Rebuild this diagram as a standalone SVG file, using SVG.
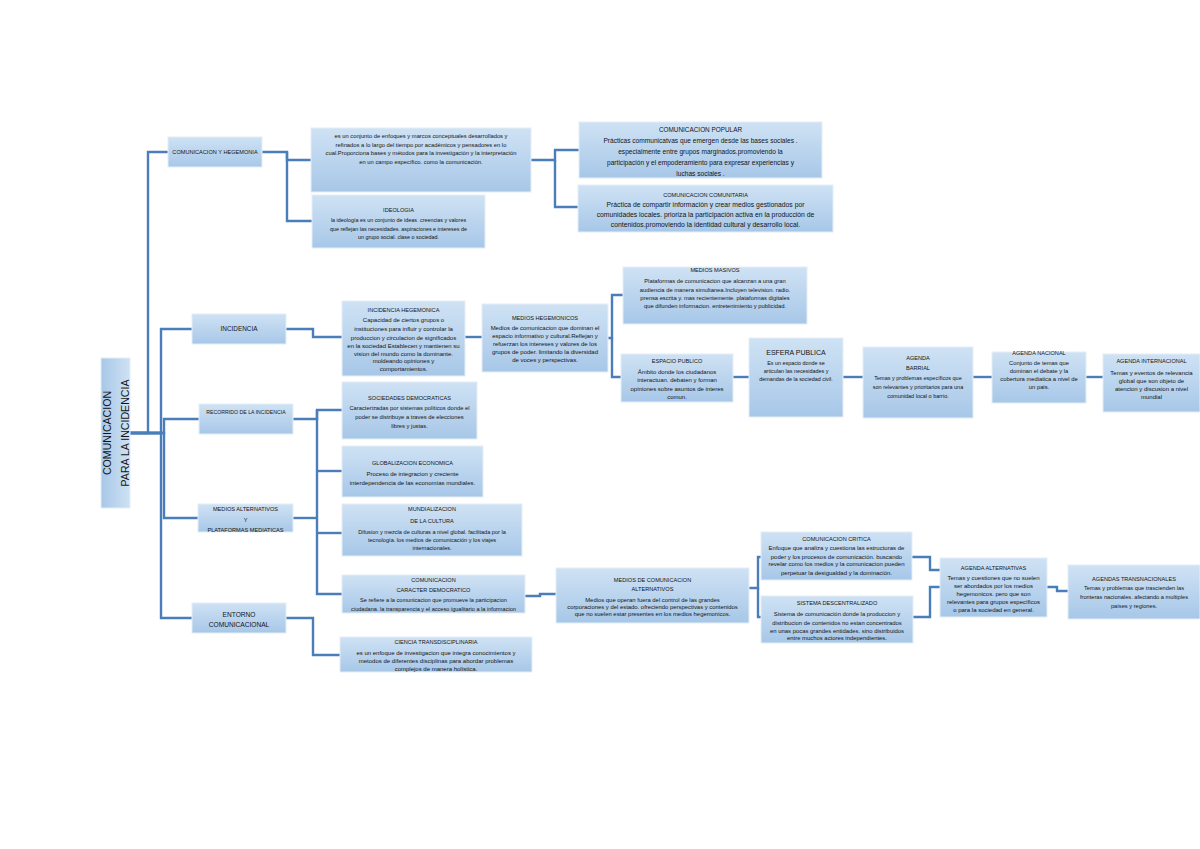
<svg xmlns="http://www.w3.org/2000/svg" width="1200" height="849" viewBox="0 0 1200 849">
<defs>
<linearGradient id="bg" x1="0" y1="0" x2="0" y2="1">
<stop offset="0" stop-color="#cfe2f4"/>
<stop offset="1" stop-color="#a7c7e8"/>
</linearGradient>
<linearGradient id="bgh" x1="0" y1="0" x2="1" y2="0">
<stop offset="0" stop-color="#a7c7e8"/>
<stop offset="1" stop-color="#cfe2f4"/>
</linearGradient>
</defs>
<style>
rect.n{fill:url(#bg);stroke:#e4eef8;stroke-width:1}
text{font-family:"Liberation Sans",Arial,sans-serif;fill:#141414;text-anchor:middle}
.t{font-size:5.6px}
.s{font-size:6px}
.c path{fill:none;stroke:#4a7ebb;stroke-width:2.4}
</style>
<rect width="1200" height="849" fill="#ffffff"/>
<g class="c" id="connectors">
<path d="M130,433 H148 V152 H168"/>
<path d="M130,433 H161 V329 H192"/>
<path d="M130,433 H164 V419 H199"/>
<path d="M130,433 H164 V518 H198"/>
<path d="M130,433 H161 V618 H192"/>
<path d="M262,152 H287 V160 H311"/>
<path d="M287,152 V221 H312"/>
<path d="M531,160 H555 V150 H579"/>
<path d="M555,160 V207 H578"/>
<path d="M286,329 H313 V337 H342"/>
<path d="M465,337 H482"/>
<path d="M608,338 H612 V295 H623"/>
<path d="M612,338 V377 H621"/>
<path d="M733,377 H749"/>
<path d="M843,377 H863"/>
<path d="M973,377 H992"/>
<path d="M1086,377 H1103"/>
<path d="M293,419 H317 V410 H342"/>
<path d="M317,410 V594 H342"/>
<path d="M317,471 H342"/>
<path d="M317,533 H342"/>
<path d="M293,518 H317"/>
<path d="M286,618 H313 V655 H340"/>
<path d="M525,596 H540 V594 H556"/>
<path d="M749,588 H758 V557 H761"/>
<path d="M758,588 V617 H761"/>
<path d="M912,557 H930 V570 H940"/>
<path d="M913,617 H930 V587 H940"/>
<path d="M1047,587 H1057 V591 H1068"/>
</g>
<g id="root">
<rect class="n" x="101" y="358" width="29" height="150" style="fill:url(#bgh)"/>
<text transform="translate(110.5,433) rotate(-90)" style="font-size:10.6px">COMUNICACION</text>
<text transform="translate(129,433) rotate(-90)" style="font-size:10.6px">PARA LA INCIDENCIA</text>
</g>
<g id="hegemonia">
<rect class="n" x="168" y="137" width="94" height="30"/>
<text x="215" y="154" class="t">COMUNICACION Y HEGEMONIA</text>
</g>
<g id="teoria">
<rect class="n" x="311" y="128" width="220" height="64"/>
<text x="421" y="138" style="font-size:5.8px">es un conjunto de enfoques y marcos conceptuales desarrollados y</text>
<text x="421" y="147" style="font-size:5.8px">refinados a lo largo del tiempo por académicos y pensadores en lo</text>
<text x="421" y="155" style="font-size:5.8px">cual.Proporciona bases y métodos para la investigación y la interpretación</text>
<text x="421" y="164" style="font-size:5.8px">en un campo específico. como la comunicación.</text>
</g>
<g id="ideologia">
<rect class="n" x="312" y="195" width="173" height="53"/>
<text x="398.5" y="212" class="t">IDEOLOGIA</text>
<text x="398.5" y="222" style="font-size:5.4px">la ideología es un conjunto de ideas. creencias y valores</text>
<text x="398.5" y="231" style="font-size:5.4px">que reflejan las necesidades. aspiraciones e intereses de</text>
<text x="398.5" y="239" style="font-size:5.4px">un grupo social. clase o sociedad.</text>
</g>
<g id="popular">
<rect class="n" x="579" y="122" width="243" height="56"/>
<text x="700.5" y="132" style="font-size:6.4px">COMUNICACION POPULAR</text>
<text x="700.5" y="143" style="font-size:6.6px">Prácticas communicatvas que emergen desde las bases sociales .</text>
<text x="700.5" y="154" style="font-size:6.6px">especialmente entre grupos marginados.promoviendo la</text>
<text x="700.5" y="165" style="font-size:6.6px">participación y el empoderamiento para expresar experiencias y</text>
<text x="700.5" y="175.5" style="font-size:6.6px">luchas sociales .</text>
</g>
<g id="comunitaria">
<rect class="n" x="578" y="185" width="255" height="47"/>
<text x="705.5" y="197" style="font-size:5.6px">COMUNICACION COMUNITARIA</text>
<text x="705.5" y="207" style="font-size:6.8px">Práctica de compartir información y crear medios gestionados por</text>
<text x="705.5" y="217" style="font-size:6.8px">comunidades locales. prioriza la participación activa en la producción de</text>
<text x="705.5" y="227" style="font-size:6.8px">contenidos.promoviendo la identidad cultural y desarrollo local.</text>
</g>
<g id="incidencia">
<rect class="n" x="192" y="314" width="94" height="30"/>
<text x="239" y="331" style="font-size:6.4px">INCIDENCIA</text>
</g>
<g id="incidencia-hegemonica">
<rect class="n" x="342" y="301" width="123" height="75"/>
<text x="403.5" y="312" class="t">INCIDENCIA HEGEMONICA</text>
<text x="403.5" y="322" class="s">Capacidad de ciertos grupos o</text>
<text x="403.5" y="330.5" class="s">instituciones para influir y controlar la</text>
<text x="403.5" y="339.5" class="s">produccion y circulacion de significados</text>
<text x="403.5" y="347.5" class="s">en la sociedad Establecen y mantienen su</text>
<text x="403.5" y="355.5" class="s">vision del mundo como la dominante.</text>
<text x="403.5" y="363" class="s">moldeando opiniones y</text>
<text x="403.5" y="371" class="s">comportamientos.</text>
</g>
<g id="medios-hegemonicos">
<rect class="n" x="482" y="304" width="126" height="68"/>
<text x="545" y="320" class="t">MEDIOS HEGEMONICOS</text>
<text x="545" y="330" class="s">Medios de comunicacion que dominan el</text>
<text x="545" y="338" class="s">espacio informativo y cultural.Reflejan y</text>
<text x="545" y="346" class="s">refuerzan los intereses y valores de los</text>
<text x="545" y="354" class="s">grupos de poder. limitando la diversidad</text>
<text x="545" y="362" class="s">de voces y perspectivas.</text>
</g>
<g id="medios-masivos">
<rect class="n" x="623" y="267" width="184" height="57"/>
<text x="715" y="272" class="t">MEDIOS MASIVOS</text>
<text x="715" y="283" style="font-size:5.8px">Plataformas de comunicacion que alcanzan a una gran</text>
<text x="715" y="292" style="font-size:5.8px">audiencia de manera simultanea.Incluyen television. radio.</text>
<text x="715" y="300" style="font-size:5.8px">prensa escrita y. mas recientemente. plataformas digitales</text>
<text x="715" y="308" style="font-size:5.8px">que difunden informacion. entretenimiento y publicidad.</text>
</g>
<g id="espacio-publico">
<rect class="n" x="621" y="354" width="112" height="48"/>
<text x="677" y="363" class="t">ESPACIO PUBLICO</text>
<text x="677" y="374" class="s">Ámbito donde los ciudadanos</text>
<text x="677" y="382" class="s">interactuan. debaten y forman</text>
<text x="677" y="391" class="s">opiniones sobre asuntos de interes</text>
<text x="677" y="399" class="s">comun.</text>
</g>
<g id="esfera-publica">
<rect class="n" x="749" y="338" width="94" height="79"/>
<text x="796" y="354.5" style="font-size:7px">ESFERA PUBLICA</text>
<text x="796" y="365" style="font-size:5.4px">Es un espacio donde se</text>
<text x="796" y="373" style="font-size:5.4px">articulan las necesidades y</text>
<text x="796" y="381" style="font-size:5.4px">demandas de la sociedad civil.</text>
</g>
<g id="agenda-barrial">
<rect class="n" x="863" y="347" width="110" height="71"/>
<text x="918" y="360" class="t">AGENDA</text>
<text x="918" y="370" class="t">BARRIAL</text>
<text x="918" y="380" style="font-size:5.5px">Temas y problemas específicos que</text>
<text x="918" y="389" style="font-size:5.5px">son relevantes y prioritarios para una</text>
<text x="918" y="398" style="font-size:5.5px">comunidad local o barrio.</text>
</g>
<g id="agenda-nacional">
<rect class="n" x="992" y="352" width="94" height="51"/>
<text x="1039" y="355" class="t">AGENDA NACIONAL</text>
<text x="1039" y="365" style="font-size:5.8px">Conjunto de temas que</text>
<text x="1039" y="373" style="font-size:5.8px">dominan el debate y la</text>
<text x="1039" y="380.5" style="font-size:5.8px">cobertura mediatica a nivel de</text>
<text x="1039" y="389" style="font-size:5.8px">un pais.</text>
</g>
<g id="agenda-internacional">
<rect class="n" x="1103" y="354" width="97" height="58"/>
<text x="1151.5" y="363" class="t">AGENDA INTERNACIONAL</text>
<text x="1151.5" y="374.5" class="s">Temas y eventos de relevancia</text>
<text x="1151.5" y="383" class="s">global que son objeto de</text>
<text x="1151.5" y="391" class="s">atencion y discusion a nivel</text>
<text x="1151.5" y="399" class="s">mundial</text>
</g>
<g id="recorrido">
<rect class="n" x="199" y="404" width="94" height="30"/>
<text x="246" y="413.5" style="font-size:5.2px">RECORRIDO DE LA INCIDENCIA</text>
</g>
<g id="sociedades">
<rect class="n" x="342" y="382" width="135" height="57"/>
<text x="409.5" y="400" class="t">SOCIEDADES DEMOCRATICAS</text>
<text x="409.5" y="410" style="font-size:5.8px">Caracterizadas por sistemas políticos donde el</text>
<text x="409.5" y="418.5" style="font-size:5.8px">poder se distribuye a traves de elecciones</text>
<text x="409.5" y="428" style="font-size:5.8px">libres y justas.</text>
</g>
<g id="globalizacion">
<rect class="n" x="342" y="446" width="141" height="51"/>
<text x="412.5" y="465" class="t">GLOBALIZACION ECONOMICA</text>
<text x="412.5" y="476" class="s">Proceso de integracion y creciente</text>
<text x="412.5" y="484.5" class="s">interdependencia de las economías mundiales.</text>
</g>
<g id="medios-alternativos">
<rect class="n" x="198" y="504" width="95" height="28"/>
<text x="245.5" y="511" class="t">MEDIOS ALTERNATIVOS</text>
<text x="245.5" y="522" class="t">Y</text>
<text x="245.5" y="532" class="t">PLATAFORMAS MEDIATICAS</text>
</g>
<g id="mundializacion">
<rect class="n" x="342" y="504" width="180" height="52"/>
<text x="432" y="511" class="t">MUNDIALIZACION</text>
<text x="432" y="523" class="t">DE LA CULTURA</text>
<text x="432" y="534" style="font-size:5.6px">Difusion y mezcla de culturas a nivel global. facilitada por la</text>
<text x="432" y="542" style="font-size:5.6px">tecnología. los medios de comunicación y los viajes</text>
<text x="432" y="550" style="font-size:5.6px">internacionales.</text>
</g>
<g id="comunicacion-democratica">
<rect class="n" x="342" y="575" width="183" height="38"/>
<text x="433.5" y="582" class="t">COMUNICACION</text>
<text x="433.5" y="592" class="t">CARACTER DEMOCRATICO</text>
<text x="433.5" y="602" style="font-size:5.6px">Se refiere a la comunicacion que promueve la participacion</text>
<text x="433.5" y="611" style="font-size:5.6px">ciudadana. la transparencia y el acceso igualitario a la informacion</text>
</g>
<g id="entorno">
<rect class="n" x="192" y="603" width="94" height="30"/>
<text x="239" y="616.5" style="font-size:6.6px">ENTORNO</text>
<text x="239" y="626.5" style="font-size:6.6px">COMUNICACIONAL</text>
</g>
<g id="ciencia">
<rect class="n" x="340" y="637" width="192" height="35"/>
<text x="436" y="644" class="t">CIENCIA TRANSDISCIPLINARIA</text>
<text x="436" y="655" class="s">es un enfoque de investigacion que integra conocimientos y</text>
<text x="436" y="663" class="s">metodos de diferentes disciplinas para abordar problemas</text>
<text x="436" y="671" class="s">complejos de manera holística.</text>
</g>
<g id="medios-comunicacion-alternativos">
<rect class="n" x="556" y="568" width="193" height="55"/>
<text x="652.5" y="582" class="t">MEDIOS DE COMUNICACION</text>
<text x="652.5" y="591" class="t">ALTERNATIVOS</text>
<text x="652.5" y="602" style="font-size:5.9px">Medios que operan fuera del control de las grandes</text>
<text x="652.5" y="609" style="font-size:5.9px">corporaciones y del estado. ofreciendo perspectivas y contenidos</text>
<text x="652.5" y="616" style="font-size:5.9px">que no suelen estar presentes en los medios hegemonicos.</text>
</g>
<g id="comunicacion-critica">
<rect class="n" x="761" y="532" width="151" height="48"/>
<text x="836.5" y="541" class="t">COMUNICACION CRITICA</text>
<text x="836.5" y="550" class="s">Enfoque que analiza y cuestiona las estructuras de</text>
<text x="836.5" y="558.5" class="s">poder y los procesos de comunicación. buscando</text>
<text x="836.5" y="566" class="s">revelar como los medios y la comunicacion pueden</text>
<text x="836.5" y="575" class="s">perpetuar la desigualdad y la dominación.</text>
</g>
<g id="sistema-descentralizado">
<rect class="n" x="761" y="596" width="152" height="47"/>
<text x="837" y="605" class="t">SISTEMA DESCENTRALIZADO</text>
<text x="837" y="616" style="font-size:5.9px">Sistema de comunicación donde la produccion y</text>
<text x="837" y="624.5" style="font-size:5.9px">distribucion de contenidos no estan concentrados</text>
<text x="837" y="633" style="font-size:5.9px">en unas pocas grandes entidades. sino distribuidos</text>
<text x="837" y="640" style="font-size:5.9px">entre muchos actores independientes.</text>
</g>
<g id="agenda-alternativas">
<rect class="n" x="940" y="558" width="107" height="59"/>
<text x="993.5" y="570" class="t">AGENDA ALTERNATIVAS</text>
<text x="993.5" y="580" class="s">Temas y cuestiones que no suelen</text>
<text x="993.5" y="588" class="s">ser abordados por los medios</text>
<text x="993.5" y="596" class="s">hegemonicos. pero que son</text>
<text x="993.5" y="604" class="s">relevantes para grupos específicos</text>
<text x="993.5" y="612" class="s">o para la sociedad en general.</text>
</g>
<g id="agendas-transnacionales">
<rect class="n" x="1068" y="565" width="132" height="54"/>
<text x="1134" y="581" class="t">AGENDAS TRANSNACIONALES</text>
<text x="1134" y="590" style="font-size:5.7px">Temas y problemas que trascienden las</text>
<text x="1134" y="599" style="font-size:5.7px">fronteras nacionales. afectando a multiples</text>
<text x="1134" y="608" style="font-size:5.7px">países y regiones.</text>
</g>
</svg>
